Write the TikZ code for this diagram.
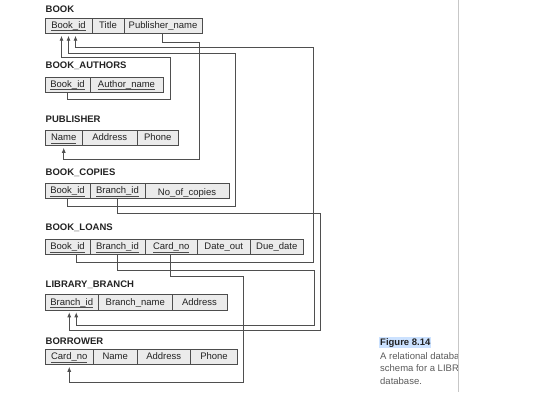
\documentclass[tikz,border=0pt]{standalone}
\usepackage{fontspec}
\setmainfont{Liberation Sans}
\usetikzlibrary{positioning,arrows.meta}

\definecolor{cellfill}{HTML}{EBEBEB}
\definecolor{cellline}{HTML}{4D4D4D}
\definecolor{linkline}{HTML}{4F4F4F}
\definecolor{capmark}{HTML}{CCE2FF}
\definecolor{capgray}{HTML}{5A5A5A}
\definecolor{inkgray}{HTML}{222222}

% key attribute: text with a rule below it
\newcommand{\keyattr}[1]{\setbox0\hbox{#1}\rlap{\color{cellline}\rule[-2.6pt]{\wd0}{0.6pt}}\box0}

\begin{document}
\begin{tikzpicture}[x=1pt, y=-1pt,
    field/.style={draw=cellline, fill=cellfill, line width=0.8pt, inner sep=0pt, outer sep=0pt,
        minimum height=15.5pt, text height=7pt, text depth=2pt, text=inkgray,
        font=\fontsize{9.5}{11}\selectfont},
    tname/.style={anchor=west, inner sep=0pt, text=inkgray, font=\fontsize{9.5}{11}\selectfont\bfseries},
    fk/.style={draw=linkline, line width=0.8pt, -{Latex[length=5pt,width=4pt]}, shorten >=2pt}]

    \useasboundingbox (0,0) rectangle (545,417);

    % --- BOOK ---
    \node[tname] (book) at (45.5,9) {BOOK};
    \node[field, anchor=west, minimum width=47pt] (book-bookid) at (45,26) {\keyattr{Book\_id}};
    \node[field, minimum width=32pt, right=0pt of book-bookid] (book-title) {Title};
    \node[field, minimum width=78pt, right=0pt of book-title] (book-pub) {Publisher\_name};

    % --- BOOK_AUTHORS ---
    \node[tname] (authors) at (45.5,66) {BOOK\_AUTHORS};
    \node[field, anchor=west, minimum width=45pt] (auth-bookid) at (45,85) {\keyattr{Book\_id}};
    \node[field, minimum width=73pt, right=0pt of auth-bookid] (auth-name) {\keyattr{Author\_name}};

    % --- PUBLISHER ---
    \node[tname] (publisher) at (45.5,119) {PUBLISHER};
    \node[field, anchor=west, minimum width=37.5pt] (pub-name) at (45,138) {\keyattr{Name}};
    \node[field, minimum width=54.5pt, right=0pt of pub-name] (pub-addr) {Address};
    \node[field, minimum width=41.5pt, right=0pt of pub-addr] (pub-phone) {Phone};

    % --- BOOK_COPIES ---
    \node[tname] (copies) at (45.5,173) {BOOK\_COPIES};
    \node[field, anchor=west, minimum width=45pt] (copies-bookid) at (45,191) {\keyattr{Book\_id}};
    \node[field, minimum width=55pt, right=0pt of copies-bookid] (copies-branch) {\keyattr{Branch\_id}};
    \node[field, minimum width=84pt, right=0pt of copies-branch] (copies-num) {\raisebox{-1.5pt}{No\_of\_copies}};

    % --- BOOK_LOANS ---
    \node[tname] (loans) at (45.5,228) {BOOK\_LOANS};
    \node[field, anchor=west, minimum width=45pt] (loans-bookid) at (45,247) {\keyattr{Book\_id}};
    \node[field, minimum width=55pt, right=0pt of loans-bookid] (loans-branch) {\keyattr{Branch\_id}};
    \node[field, minimum width=52.5pt, right=0pt of loans-branch] (loans-card) {\keyattr{Card\_no}};
    \node[field, minimum width=52.5pt, right=0pt of loans-card] (loans-out) {Date\_out};
    \node[field, minimum width=53.5pt, right=0pt of loans-out] (loans-due) {Due\_date};

    % --- LIBRARY_BRANCH ---
    \node[tname] (library) at (45.5,285) {LIBRARY\_BRANCH};
    \node[field, anchor=west, minimum width=53.5pt] (branch-id) at (45,302.5) {\keyattr{Branch\_id}};
    \node[field, minimum width=73.5pt, right=0pt of branch-id] (branch-name) {Branch\_name};
    \node[field, minimum width=55pt, right=0pt of branch-name] (branch-addr) {Address};

    % --- BORROWER ---
    \node[tname] (borrower) at (45.5,341) {BORROWER};
    \node[field, anchor=west, minimum width=48.5pt] (bor-card) at (45,357) {\keyattr{Card\_no}};
    \node[field, minimum width=43.5pt, right=0pt of bor-card] (bor-name) {Name};
    \node[field, minimum width=53.5pt, right=0pt of bor-name] (bor-addr) {Address};
    \node[field, minimum width=47pt, right=0pt of bor-addr] (bor-phone) {Phone};

    % --- Bend points of the references ---
    \coordinate (au1) at (170,99);     \coordinate (au2) at (170,57.5);
    \coordinate (co1) at (235,206.5);  \coordinate (co2) at (235,53);
    \coordinate (lo1) at (313.5,262);  \coordinate (lo2) at (313.5,47.5);
    \coordinate (pu1) at (199.5,42.5); \coordinate (pu2) at (199.5,159);
    \coordinate (cb1) at (320.5,213);  \coordinate (cb2) at (320.5,330.5);
    \coordinate (lb1) at (314,270);    \coordinate (lb2) at (314,325);
    \coordinate (lc1) at (243.5,276);  \coordinate (lc2) at (243.5,382.5);

    % --- References ---
    \draw[fk] (auth-bookid.south) |- (au1) -- (au2) -| ([xshift=-7pt]book-bookid.south);
    \draw[fk] (copies-bookid.south) |- (co1) -- (co2) -| (book-bookid.south);
    \draw[fk] ([xshift=8.5pt]loans-bookid.south) |- (lo1) -- (lo2) -| ([xshift=7pt]book-bookid.south);
    \draw[fk] ([xshift=-1pt]book-pub.south) |- (pu1) -- (pu2) -| (pub-name.south);
    \draw[fk] (copies-branch.south) |- (cb1) -- (cb2) -| ([xshift=-2.5pt]branch-id.south);
    \draw[fk] (loans-branch.south) |- (lb1) -- (lb2) -| ([xshift=4.5pt]branch-id.south);
    \draw[fk] ([xshift=-1.3pt]loans-card.south) |- (lc1) -- (lc2) -| (bor-card.south);

    % --- Caption, cut at the page edge ---
    \draw[black!22, line width=0.9pt] (458.3,0) -- (458.3,392);
    \begin{scope}
        \clip (370,330) rectangle (457.6,392);
        \node[anchor=west, fill=capmark, inner sep=1pt, text height=7pt, text depth=1.5pt,
            text=inkgray, font=\fontsize{9.5}{11}\selectfont\bfseries] (fig) at (379,342.5) {Figure 8.14};
        \node[anchor=north west, inner sep=0pt, align=left, text=capgray,
            font=\fontsize{9.5}{12.5}\selectfont] (cap) at ([xshift=1pt,yshift=-4pt]fig.south west)
            {A relational databa\\schema for a LIBR\\database.};
    \end{scope}

\end{tikzpicture}
\end{document}
